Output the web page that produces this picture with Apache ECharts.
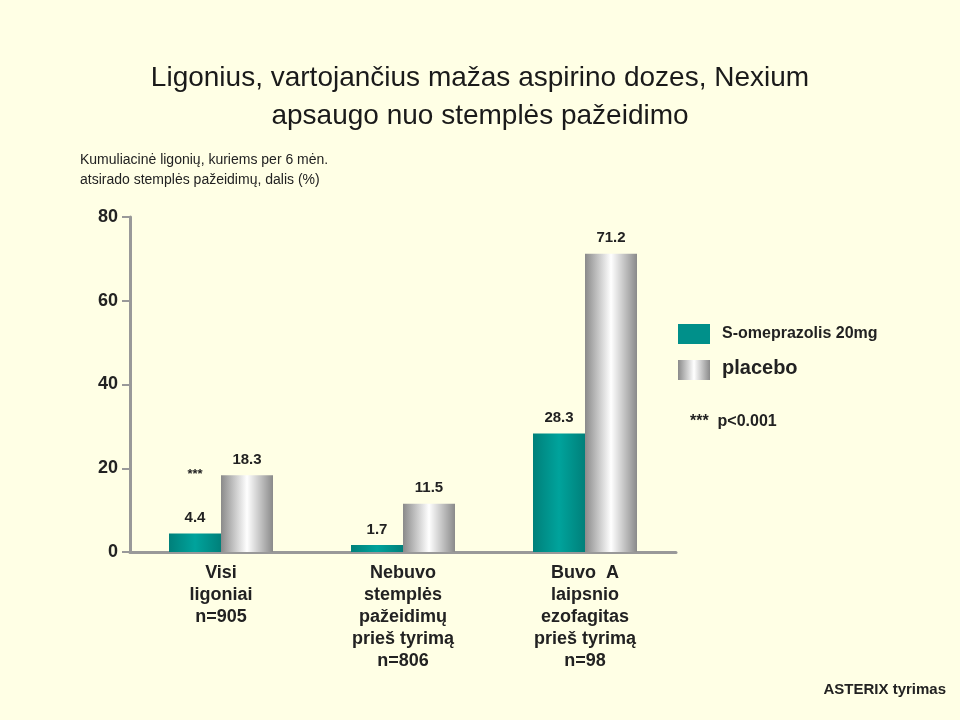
<!DOCTYPE html>
<html><head><meta charset="utf-8">
<script src="https://cdn.jsdelivr.net/npm/echarts@6/dist/echarts.min.js"></script>
<style>html,body{margin:0;background:#FFFFE5}#c{width:960px;height:720px}</style></head>
<body><div id="c"></div>
<script>
const categories = ['Visi\nligoniai\nn=905', 'Nebuvo\nstemplės\npažeidimų\nprieš tyrimą\nn=806', 'Buvo  A\nlaipsnio\nezofagitas\nprieš tyrimą\nn=98'];
const esomeprazole = [4.4, 1.7, 28.3];
const placebo = [18.3, 11.5, 71.2];
const significance = ['***', '', ''];
const yTicks = [0, 20, 40, 60, 80];
const F = 'Arial, "Liberation Sans", sans-serif';
const chart = echarts.init(document.getElementById('c'));
chart.setOption({
  backgroundColor: '#FFFFE5',
  animation: false,
  title: {
    text: 'Ligonius, vartojančius mažas aspirino dozes, Nexium\napsaugo nuo stemplės pažeidimo',
    left: 'center', top: 54,
    textStyle: {fontFamily: F, fontSize: 28, fontWeight: 'normal', color: '#1a1a1a', lineHeight: 38}
  },
  graphic: [
    {type: 'text', left: 80, top: 150, style: {text: 'Kumuliacinė ligonių, kuriems per 6 mėn.\natsirado stemplės pažeidimų, dalis (%)', font: '14px ' + F, fill: '#222', lineHeight: 20}},
    {type: 'rect', left: 678, top: 324, shape: {width: 32, height: 20}, style: {fill: '#00908A'}},
    {type: 'text', left: 722, top: 326, style: {text: 'S-omeprazolis 20mg', font: 'bold 16px ' + F, fill: '#222'}},
    {type: 'rect', left: 678, top: 360, shape: {width: 32, height: 20}, style: {fill: new echarts.graphic.LinearGradient(0,0,1,0,[{offset:0,color:'#8a8a8a'},{offset:0.5,color:'#ffffff'},{offset:1,color:'#8a8a8a'}])}},
    {type: 'text', left: 722, top: 358, style: {text: 'placebo', font: 'bold 20px ' + F, fill: '#222'}},
    {type: 'text', left: 690, top: 414, style: {text: '***  p<0.001', font: 'bold 16px ' + F, fill: '#222'}},
    {type: 'text', right: 14, top: 682, style: {text: 'ASTERIX tyrimas', font: 'bold 15px ' + F, fill: '#222'}}
  ],
  grid: {left: 130, right: 284, top: 217, bottom: 168},
  xAxis: {
    type: 'category', data: categories,
    axisLine: {lineStyle: {color: '#999', width: 3}},
    axisTick: {show: false},
    axisLabel: {fontFamily: F, fontSize: 18, fontWeight: 'bold', color: '#222', lineHeight: 22, margin: 10, interval: 0}
  },
  yAxis: {
    type: 'value', min: 0, max: 80, interval: 20,
    splitLine: {show: false},
    axisLine: {show: true, lineStyle: {color: '#999', width: 3}},
    axisTick: {show: true, inside: false, length: 8, lineStyle: {color: '#999', width: 2}},
    axisLabel: {fontFamily: F, fontSize: 18, fontWeight: 'bold', color: '#222', margin: 12,
      formatter: v => yTicks.includes(v) ? String(v) : ''}
  },
  series: [
    {type: 'bar', name: 'S-omeprazolis 20mg', data: esomeprazole, barWidth: 52, barGap: '0%',
     itemStyle: {color: new echarts.graphic.LinearGradient(0,0,1,0,[{offset:0,color:'#00807A'},{offset:0.5,color:'#00A39C'},{offset:1,color:'#00807A'}])},
     label: {show: true, position: 'top', distance: 8, fontFamily: F, fontSize: 15, fontWeight: 'bold', color: '#222',
       formatter: p => significance[p.dataIndex] ? '{s|' + significance[p.dataIndex] + '}\n\n\n' + p.value : String(p.value),
       rich: {s: {fontSize: 13, fontWeight: 'bold', color: '#222'}}}},
    {type: 'bar', name: 'placebo', data: placebo, barWidth: 52,
     itemStyle: {color: new echarts.graphic.LinearGradient(0,0,1,0,[{offset:0,color:'#8a8a8a'},{offset:0.5,color:'#ffffff'},{offset:1,color:'#8a8a8a'}])},
     label: {show: true, position: 'top', distance: 8, fontFamily: F, fontSize: 15, fontWeight: 'bold', color: '#222'}}
  ]
});
</script></body></html>
